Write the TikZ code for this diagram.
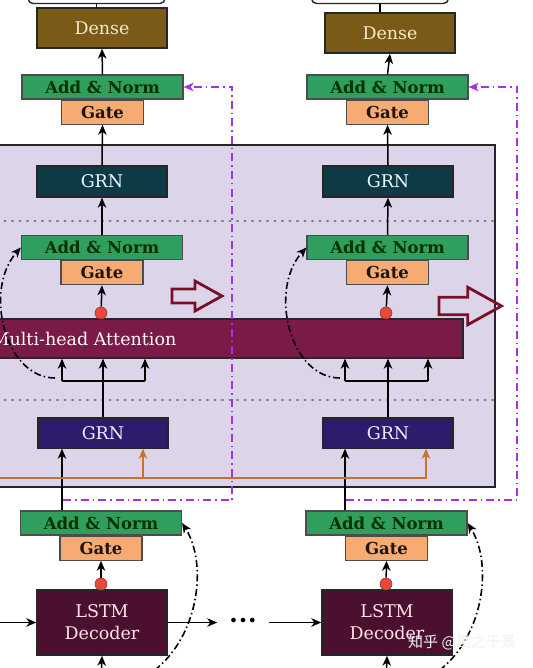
\documentclass[tikz,border=0pt]{standalone}
\usepackage{fontspec}
\setmainfont{DejaVu Serif}
\newfontfamily\cjkfont{Noto Sans CJK SC}
\usetikzlibrary{shapes,arrows,arrows.meta,positioning}

\definecolor{densebrown}{HTML}{7B5A17}
\definecolor{cream}{HTML}{F5EBCB}
\definecolor{normgreen}{HTML}{2F9E5E}
\definecolor{gateorange}{HTML}{F6AB72}
\definecolor{grnteal}{HTML}{0D3A44}
\definecolor{grnindigo}{HTML}{2E1B6B}
\definecolor{attnmaroon}{HTML}{7A1A48}
\definecolor{lstmplum}{HTML}{4B0F30}
\definecolor{panelgray}{HTML}{DCD5EA}
\definecolor{skipviolet}{HTML}{A530E6}
\definecolor{staticorange}{HTML}{C8722C}
\definecolor{flowred}{HTML}{7A1028}
\definecolor{dotred}{HTML}{E8483A}

\begin{document}
\begin{tikzpicture}[>={Stealth[length=10pt,width=8.5pt,inset=3pt]}, x=1pt, y=-1pt, line width=1.5pt]
    % Styles
    \tikzstyle{block} = [rectangle, draw=black!85, line width=1.4pt, inner sep=0pt, font=\fontsize{17.5}{22}\selectfont]
    \tikzstyle{dense} = [block, fill=densebrown, text=cream, minimum width=130pt, minimum height=40pt]
    \tikzstyle{grntop} = [block, fill=grnteal, text=white!92!cyan, minimum width=130pt, minimum height=31pt]
    \tikzstyle{grnlow} = [block, fill=grnindigo, text=white!92!blue, minimum width=130pt, minimum height=30pt]
    \tikzstyle{lstm} = [block, fill=lstmplum, text=pink!40!white, minimum width=130pt, minimum height=65pt, align=center]
    \tikzstyle{attn} = [block, fill=attnmaroon, text=white!90!pink, minimum width=758pt, minimum height=39pt]
    \tikzstyle{addnorm} = [rectangle, draw=gray!60!black, line width=1.2pt, fill=normgreen, text=black!80!green, minimum width=161pt, minimum height=24pt, inner sep=0pt, font=\bfseries\fontsize{16.5}{18}\selectfont]
    \tikzstyle{gate} = [addnorm, fill=gateorange, text=black!85!brown, minimum width=82pt]
    \tikzstyle{dot} = [circle, fill=dotred, draw=dotred!70!black, line width=0.6pt, minimum size=12pt, inner sep=0pt]
    \tikzstyle{resid} = [->, line width=1.6pt, dash pattern=on 7pt off 3pt on 1.5pt off 3pt]
    \tikzstyle{skipline} = [->, draw=skipviolet, line width=1.5pt, dash pattern=on 8pt off 4pt on 1.5pt off 4pt]
    \tikzstyle{static} = [->, draw=staticorange, line width=1.5pt]
    \tikzstyle{hollow} = [draw=flowred, line width=2.8pt, line join=miter]
    \tikzstyle{rowsep} = [gray, line width=1.5pt, dash pattern=on 1.5pt off 6pt, line cap=round]

    \useasboundingbox (0,0) rectangle (532,668);
    \fill[white] (0,0) rectangle (532,668);
    \clip (0,0) rectangle (532,668);

    % Panel
    \node[draw=black!85, fill=panelgray, line width=1.4pt, minimum width=520pt, minimum height=342pt] (Panel) at (235,316) {};
    \draw[rowsep] (Panel.west |- 0,221) -- (Panel.east |- 0,221);
    \draw[rowsep] (Panel.west |- 0,400) -- (Panel.east |- 0,400);

    % Nodes
    \node[draw=black!85, fill=white, line width=1.4pt, rounded corners=5pt, minimum width=137pt, minimum height=23pt] (Out1) at (96.5,-8) {};
    \node[draw=black!85, fill=white, line width=1.4pt, rounded corners=5pt, minimum width=137pt, minimum height=23pt] (Out2) at (380,-8) {};

    \node[dense] (Dense1) at (102,28) {Dense};
    \node[dense] (Dense2) at (390,33) {Dense};

    \node[addnorm] (OutNorm1) at (102.5,87) {Add \& Norm};
    \node[gate, below=0pt of OutNorm1] (OutGate1) {Gate};
    \node[addnorm] (OutNorm2) at (387.5,87) {Add \& Norm};
    \node[gate, below=0pt of OutNorm2] (OutGate2) {Gate};

    \node[grntop] (GrnTop1) at (102,181.5) {GRN};
    \node[grntop] (GrnTop2) at (388,181.5) {GRN};

    \node[addnorm] (AttNorm1) at (102,247.5) {Add \& Norm};
    \node[gate, below=0pt of AttNorm1] (AttGate1) {Gate};
    \node[addnorm] (AttNorm2) at (387.5,247.5) {Add \& Norm};
    \node[gate, below=0pt of AttNorm2] (AttGate2) {Gate};

    \node[attn] (Attention) at (84,338.5) {Multi-head Attention};
    \node[dot] (AttDot1) at (101,313) {};
    \node[dot] (AttDot2) at (386,313) {};

    \node[grnlow] (GrnLow1) at (103,433) {GRN};
    \node[grnlow] (GrnLow2) at (388,433) {GRN};

    \node[addnorm] (DecNorm1) at (101,523) {Add \& Norm};
    \node[gate, below=0pt of DecNorm1] (DecGate1) {Gate};
    \node[addnorm] (DecNorm2) at (386.5,523) {Add \& Norm};
    \node[gate, below=0pt of DecNorm2] (DecGate2) {Gate};

    \node[lstm] (Lstm1) at (102,622.5) {LSTM\\Decoder};
    \node[lstm] (Lstm2) at (387,622.5) {LSTM\\Decoder};
    \node[dot] (DecDot1) at (101,584) {};
    \node[dot] (DecDot2) at (386,584) {};

    \node[inner sep=0pt, minimum width=50pt, minimum height=12pt, font=\fontsize{16}{16}\selectfont] (More) at (243,622.5) {•••};

    % Coordinates
    \coordinate (Fork1a) at (62,381);  \coordinate (Fork1b) at (145,381);
    \coordinate (Fork2a) at (345,381); \coordinate (Fork2b) at (428,381);
    \coordinate (Static0) at (-5,478); \coordinate (Static1) at (143,478); \coordinate (Static2) at (426,478);
    \coordinate (Skip1) at (63,500);   \coordinate (Turn1) at (232,500);
    \coordinate (Skip2) at (346,500);  \coordinate (Turn2) at (517,500);
    \coordinate (Res1) at (55,378);    \coordinate (Res2) at (340,378);
    \coordinate (In1) at (101,690);    \coordinate (In2) at (386,690);
    \coordinate (Prev) at (-5,622.5);

    % Arrows
    \draw (Out1.south) -- (Out1.south |- Dense1.north);
    \draw (Out2.south) -- (Out2.south |- Dense2.north);
    \draw[->] (OutNorm1.north) -- (Dense1.south);
    \draw[->] (OutNorm2.north) -- (Dense2.south);
    \draw[->] (GrnTop1.north) -- (OutGate1.south);
    \draw[->] (GrnTop2.north) -- (OutGate2.south);
    \draw[->] (AttNorm1.north) -- (GrnTop1.south);
    \draw[->] (AttNorm2.north) -- (GrnTop2.south);
    \draw[->] (AttDot1) -- (AttGate1.south);
    \draw[->] (AttDot2) -- (AttGate2.south);

    \draw (Fork1a) -- (Fork1b);
    \draw[->] (Fork1a) -- (Fork1a |- Attention.south);
    \draw[->] (Fork1b) -- (Fork1b |- Attention.south);
    \draw[->] (GrnLow1.north) -- (GrnLow1.north |- Attention.south);
    \draw (Fork2a) -- (Fork2b);
    \draw[->] (Fork2a) -- (Fork2a |- Attention.south);
    \draw[->] (Fork2b) -- (Fork2b |- Attention.south);
    \draw[->] (GrnLow2.north) -- (GrnLow2.north |- Attention.south);

    \draw[->] (DecNorm1.north -| Fork1a) -- (Fork1a |- GrnLow1.south);
    \draw[->] (DecNorm2.north -| Fork2a) -- (Fork2a |- GrnLow2.south);

    \draw[static] (Static0) -| (Static2 |- GrnLow2.south);
    \draw[static] (Static1) -- (Static1 |- GrnLow1.south);

    \draw[->] (DecDot1) -- (DecGate1.south);
    \draw[->] (DecDot2) -- (DecGate2.south);
    \draw[->] (In1) -- (Lstm1.south);
    \draw[->] (In2) -- (Lstm2.south);
    \draw[->] (Prev) -- (Lstm1.west);
    \draw[->] (Lstm1.east) -- (More.west);
    \draw[->] (More.east) -- (Lstm2.west);

    % Residual links
    \draw[resid] (Res1) .. controls (5,378) and (-17,290) .. (AttNorm1.west);
    \draw[resid] (Res2) .. controls (290,378) and (268,290) .. (AttNorm2.west);
    \draw[resid] (In1) .. controls (190,685) and (215,575) .. (DecNorm1.east);
    \draw[resid] (In2) .. controls (475,685) and (500,575) .. (DecNorm2.east);

    % Skip connections
    \draw[skipline] (Skip1) -- (Turn1) |- (OutNorm1.east);
    \draw[skipline] (Skip2) -- (Turn2) |- (OutNorm2.east);

    % Flow arrows
    \draw[hollow, shift={(172,296)}] (0,-7) -- (23,-7) -- (23,-15) -- (50,0) -- (23,15) -- (23,7) -- (0,7) -- cycle;
    \draw[hollow, shift={(439,306)}, scale=1.25] (0,-7) -- (23,-7) -- (23,-15) -- (50,0) -- (23,15) -- (23,7) -- (0,7) -- cycle;

    % Watermark
    \node[text=white!90!gray, font=\cjkfont\fontsize{15}{15}\selectfont] (Mark) at (462,642) {知乎 @風之千景};
\end{tikzpicture}
\end{document}
